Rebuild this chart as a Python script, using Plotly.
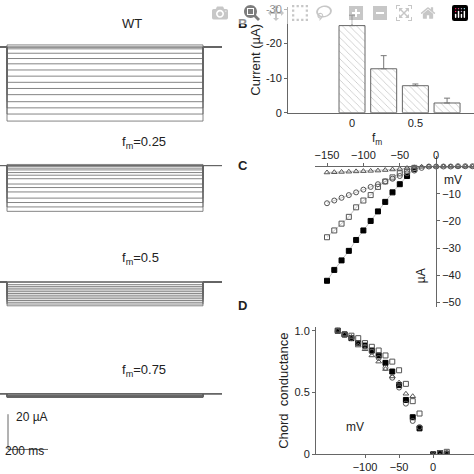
import plotly.graph_objects as go

W = H = 474
def px(x): return x / W
def py(y): return 1 - y / H

# ---- data ----
volts_c = [-150, -140, -130, -120, -110, -100, -90, -80, -70, -60, -50, -40, -30, -20, -10, 0, 10, 20, 30, 40, 50, 60]
i_wt   = [-42, -38, -34.5, -31, -27, -23.5, -20, -16.5, -13, -9.5, -6.5, -3.5, -1, -0.3, 0, 0, 0.2, 0.4, 0.6, 0.8, 1, 1.2]
i_f25  = [-26, -23.5, -21, -18.5, -15, -12.5, -10.5, -7.5, -5.5, -4, -2.5, -1.5, -0.5, -0.2, 0, 0, 0.1, 0.2, 0.3, 0.4, 0.5, 0.6]
i_f50  = [-13.5, -12.5, -11.5, -10.5, -9.5, -8.5, -7.5, -6.5, -5.5, -4.5, -3.5, -2.5, -1.5, -0.5, 0, 0, 0, 0, 0.1, 0.1, 0.1, 0.1]
i_f75  = [-2.2, -2.1, -2, -1.9, -1.8, -1.7, -1.6, -1.5, -1.3, -1.1, -0.9, -0.6, -0.3, -0.1, 0, 0, 0, 0, 0, 0, 0, 0]

fm_labels = ["0", "0.25", "0.5", "0.75"]
bar_current = [-25.2, -12.7, -7.8, -2.8]
bar_err = [3.0, 3.8, 0.5, 1.4]

volts_d = [-140, -130, -120, -110, -100, -90, -80, -70, -60, -50, -40, -30, -20, -10, 0, 10, 20]
g_wt  = [1.0, 0.97, 0.94, 0.90, 0.88, 0.84, 0.80, 0.74, 0.67, 0.56, 0.44, 0.30, 0.21, None, 0.0, 0.01, 0.0]
g_f25 = [1.0, 0.97, 0.96, 0.94, 0.90, 0.87, 0.84, 0.80, 0.75, 0.68, 0.57, 0.43, 0.33, None, -0.02, 0.01, 0.02]
g_f50 = [1.0, 0.97, 0.94, 0.90, 0.87, 0.83, 0.78, 0.70, 0.62, 0.54, 0.41, 0.27, 0.22, None, 0.0, 0.01, 0.01]
g_f75 = [1.0, 0.97, 0.95, 0.88, 0.85, 0.80, 0.75, 0.69, 0.63, 0.58, 0.49, 0.47, None, None, -0.01, -0.01, 0.01]

sweep_idx = [0, 1, 2, 3, 4, 5, 6, 7, 8, 9, 10, 11, 12, 14, 17, 21]
sweep_end = 980
t_start, t_end = -35, 1075

fig = go.Figure()
layout = dict(width=W, height=H, margin=dict(l=0, r=0, t=0, b=0),
              plot_bgcolor="white", paper_bgcolor="white", showlegend=False,
              font=dict(family="Liberation Sans, Arial", size=11, color="#222"))

# ---- panel A ----
groups = [("WT", i_wt, 44), ("f<sub>m</sub>=0.25", i_f25, 165),
          ("f<sub>m</sub>=0.5", i_f50, 284), ("f<sub>m</sub>=0.75", i_f75, 398)]
pxua = 1.8
ann = []
for k, (title, cur, base) in enumerate(groups):
    n = k + 1
    top = base - 19
    bot = min(base + 81, 474)
    layout[f"xaxis{n}"] = dict(domain=[0, px(222)], range=[t_start, t_end], visible=False, anchor=f"y{n}")
    layout[f"yaxis{n}"] = dict(domain=[py(bot), py(top)], range=[-(bot - base) / pxua, (base - top) / pxua],
                               visible=False, anchor=f"x{n}")
    for j in sweep_idx:
        L = cur[j]
        fig.add_trace(go.Scatter(x=[t_start, 0, 0, sweep_end, sweep_end, t_end], y=[0, 0, L, L, 0, 0],
                                 mode="lines", line=dict(color="#666", width=0.8),
                                 xaxis=f"x{n}", yaxis=f"y{n}", hoverinfo="skip"))
    ann.append(dict(text=title, x=px(120), y=py(base - 24), xref="paper", yref="paper",
                    showarrow=False, font=dict(size=13), yanchor="middle"))

fig.add_trace(go.Scatter(x=[5, 5, 205], y=[-11.7, -31.7, -31.7], mode="lines",
                         line=dict(color="#666", width=1), xaxis="x4", yaxis="y4"))
ann.append(dict(text="20 µA", x=px(14), y=py(431), xref="paper", yref="paper", showarrow=False,
                xanchor="left", font=dict(size=12)))
ann.append(dict(text="200 ms", x=px(3), y=py(466), xref="paper", yref="paper", showarrow=False,
                xanchor="left", font=dict(size=12)))

# ---- panel B ----
fig.add_trace(go.Bar(x=[0, 1, 2, 3], y=bar_current, width=0.82,
                     marker=dict(color="white", line=dict(color="#666", width=1),
                                 pattern=dict(shape="\\", fgcolor="#888", size=5, solidity=0.15)),
                     error_y=dict(type="data", symmetric=False, array=[0]*4, arrayminus=bar_err,
                                  color="#777", thickness=1, width=3),
                     xaxis="x5", yaxis="y5"))
layout["xaxis5"] = dict(domain=[px(288), 1], range=[-2.02, 3.85], anchor="y5",
                        tickvals=[0, 2], ticktext=["0", "0.5"], showline=True, linecolor="#666",
                        ticks="", showgrid=False, zeroline=False, tickfont=dict(size=11))
layout["yaxis5"] = dict(domain=[py(111), py(3)], range=[0, -30.6], anchor="x5",
                        tickvals=[-30, -20, -10, 0], ticktext=["-30", "-20", "-10", "0"],
                        showline=True, linecolor="#666", ticks="outside", ticklen=3, tickcolor="#666",
                        showgrid=False, zeroline=False, title=dict(text="Current (µA)", standoff=2))
ann.append(dict(text="f<sub>m</sub>", x=px(384), y=py(128), xref="paper", yref="paper",
                showarrow=False, font=dict(size=12)))

# ---- panel C ----
mk = [("square", "black"), ("square-open", "#555"), ("circle-open", "#555"), ("triangle-up-open", "#555")]
for (sym, col), cur in zip(mk, [i_wt, i_f25, i_f50, i_f75]):
    keep = [i for i, v in enumerate(volts_c) if v <= -30 or sym in ("circle-open", "triangle-up-open")]
    fig.add_trace(go.Scatter(x=[volts_c[i] for i in keep], y=[cur[i] for i in keep], mode="lines+markers",
                             marker=dict(symbol=sym, color=col, size=5, line=dict(color=col, width=1)),
                             line=dict(color="#aaa", width=0.7), xaxis="x6", yaxis="y6"))
layout["xaxis6"] = dict(domain=[px(315), 1], range=[-166.5, 52], anchor="free", position=py(166),
                        side="top", tickvals=[-150, -100, -50, 0], showline=True, linecolor="#666",
                        ticks="outside", ticklen=3, tickcolor="#666", showgrid=False, zeroline=False)
layout["yaxis6"] = dict(domain=[py(310), py(155)], range=[-51.8, 3.96], anchor="free", position=px(436),
                        side="right", tickvals=[-50, -40, -30, -20, -10], showline=True, linecolor="#666",
                        ticks="outside", ticklen=3, tickcolor="#666", showgrid=False, zeroline=False)
ann.append(dict(text="mV", x=px(464), y=py(180), xref="paper", yref="paper", showarrow=False, font=dict(size=12)))
ann.append(dict(text="µA", x=px(430), y=py(278), xref="paper", yref="paper", showarrow=False,
                textangle=-90, font=dict(size=12)))

# ---- panel D ----
for (sym, col), g in zip(mk, [g_wt, g_f25, g_f50, g_f75]):
    fig.add_trace(go.Scatter(x=volts_d, y=g, mode="markers",
                             marker=dict(symbol=sym, color=col, size=5, line=dict(color=col, width=1)),
                             xaxis="x7", yaxis="y7"))
layout["xaxis7"] = dict(domain=[px(316), 1], range=[-172, 60], anchor="y7",
                        tickvals=[-100, -50, 0], showline=True, linecolor="#666",
                        ticks="outside", ticklen=3, tickcolor="#666", showgrid=False, zeroline=False)
layout["yaxis7"] = dict(domain=[py(460), py(330)], range=[0, 1.03], anchor="x7",
                        tickvals=[0, 0.5, 1.0], ticktext=["0", "0.5", "1.0"], showline=True, linecolor="#666",
                        ticks="outside", ticklen=3, tickcolor="#666", showgrid=False, zeroline=False,
                        title=dict(text="Chord  conductance", standoff=2))
ann.append(dict(text="mV", x=px(366), y=py(441), xref="paper", yref="paper", showarrow=False, font=dict(size=12)))

for lab, y in [("B", 10), ("C", 165), ("D", 318)]:
    ann.append(dict(text=f"<b>{lab}</b>", x=px(243), y=py(y), xref="paper", yref="paper",
                    showarrow=False, font=dict(size=13)))

layout["annotations"] = ann
fig.update_layout(**layout)
fig.write_html("out.html", post_script="document.body.style.margin='0px';")
